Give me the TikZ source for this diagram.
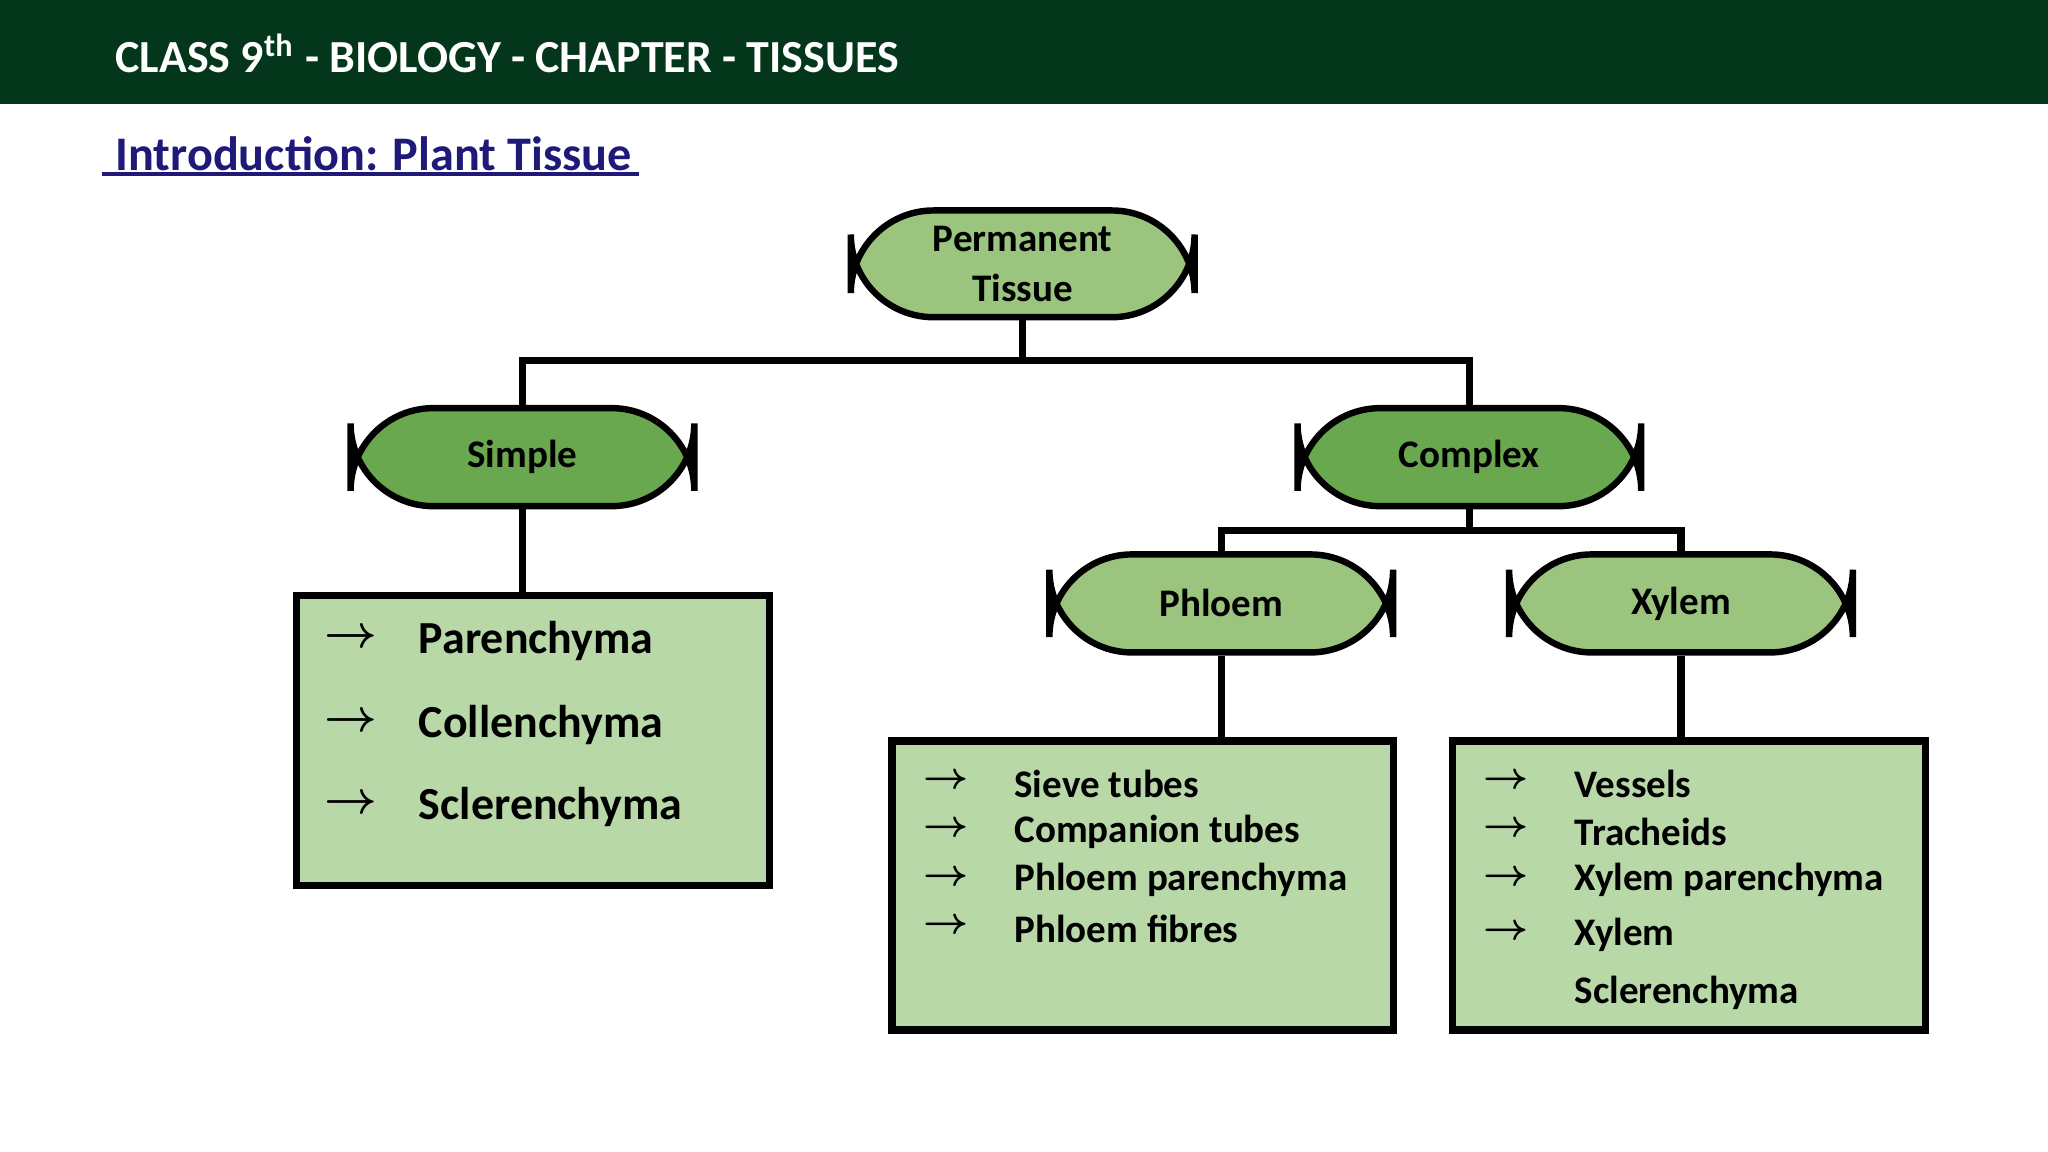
\documentclass[tikz,border=0pt]{standalone}
\usepackage{amsmath,amssymb}
\usepackage{fontspec}
\setmainfont{Carlito}
\usepackage{tikz}
\usetikzlibrary{positioning}
\definecolor{barGreen}{HTML}{03361A}
\definecolor{lightGreen}{HTML}{9BC57E}
\definecolor{darkGreen}{HTML}{6AA84F}
\definecolor{boxGreen}{HTML}{B8D8A8}
\definecolor{titleBlue}{HTML}{1F1A7A}
\begin{document}
\begin{tikzpicture}[x=0.01cm,y=-0.01cm]
    \tikzset{pill/.style= {draw, line width=1.4pt, rounded corners=18pt, minimum width=2.63cm, minimum height=0.75cm, align=center, font={\bfseries\fontsize{8.5}{11}\selectfont}} }
    \tikzset{list/.style= {draw, line width=1.6pt, fill=boxGreen, rectangle} }
    \tikzset{item/.style= {anchor=west, inner sep=0pt, font={\bfseries\fontsize{8.5}{10}\selectfont}} }
    \tikzset{big/.style= {item, font={\bfseries\fontsize{10}{12}\selectfont}} }
    \tikzset{link/.style= {draw, line width=1.6pt} }
    \useasboundingbox (0,0) rectangle (1568,882);
    \fill[barGreen] (0,0) rectangle (1568,80);
    \node[anchor=west, text=white, font={\bfseries\fontsize{10}{12}\selectfont}] (head) at (76,41) {CLASS 9\textsuperscript{th} - BIOLOGY - CHAPTER - TISSUES};
    \node[anchor=west, text=titleBlue, font={\bfseries\fontsize{10.5}{12}\selectfont}] (intro) at (76,118) {Introduction: Plant Tissue};
    \draw[titleBlue, line width=0.8pt] (78,133) -- (489,133);

    \node[pill, fill=lightGreen] (perm) at (783,202) {Permanent\\Tissue};
    \node[pill, fill=darkGreen] (simple) at (400,350) {Simple};
    \node[pill, fill=darkGreen] (complex) at (1125,350) {Complex};
    \node[pill, fill=lightGreen] (phloem) at (935,462) {Phloem};
    \node[pill, fill=lightGreen] (xylem) at (1287,462) {Xylem};

    \node[list, minimum width=3.62cm, minimum height=2.22cm] (sbox) at (408,567) {};
    \node[list, minimum width=3.84cm, minimum height=2.21cm] (pbox) at (875,678) {};
    \node[list, minimum width=3.62cm, minimum height=2.21cm] (xbox) at (1293,678) {};

    \coordinate (pj) at (783,276);
    \coordinate (cj) at (1125,406);
    \path[link] (perm) -- (pj) -| (simple);
    \path[link] (pj) -| (complex);
    \path[link] (complex) -- (cj) -| (phloem);
    \path[link] (cj) -| (xylem);
    \path[link] (simple) -- (simple |- sbox.north);
    \path[link] (phloem) -- (phloem |- pbox.north);
    \path[link] (xylem) -- (xylem |- xbox.north);

    % simple tissues
    \foreach \t/\y in {Parenchyma/491, Collenchyma/555, Sclerenchyma/618} {
      \node[big] (s-\t) at (320,\y) {\t};
      \node[big] at (248,\y-2) {$\boldsymbol{\rightarrow}$};
    }
    % phloem
    \foreach \t [count=\i] in {Sieve tubes, Companion tubes, Phloem parenchyma, Phloem fibres} {
      \node[item] (p-\i) at (776,563+37*\i) {\t};
      \node[item] at (706,561+37*\i) {$\boldsymbol{\rightarrow}$};
    }
    % xylem
    \foreach \t/\y [count=\i] in {Vessels/600, Tracheids/637, Xylem parenchyma/674, Xylem/716} {
      \node[item] (x-\i) at (1205,\y) {\t};
      \node[item] at (1135,\y-2) {$\boldsymbol{\rightarrow}$};
    }
    \node[item] (x-5) at (1205,760) {Sclerenchyma};
\end{tikzpicture}
\end{document}
